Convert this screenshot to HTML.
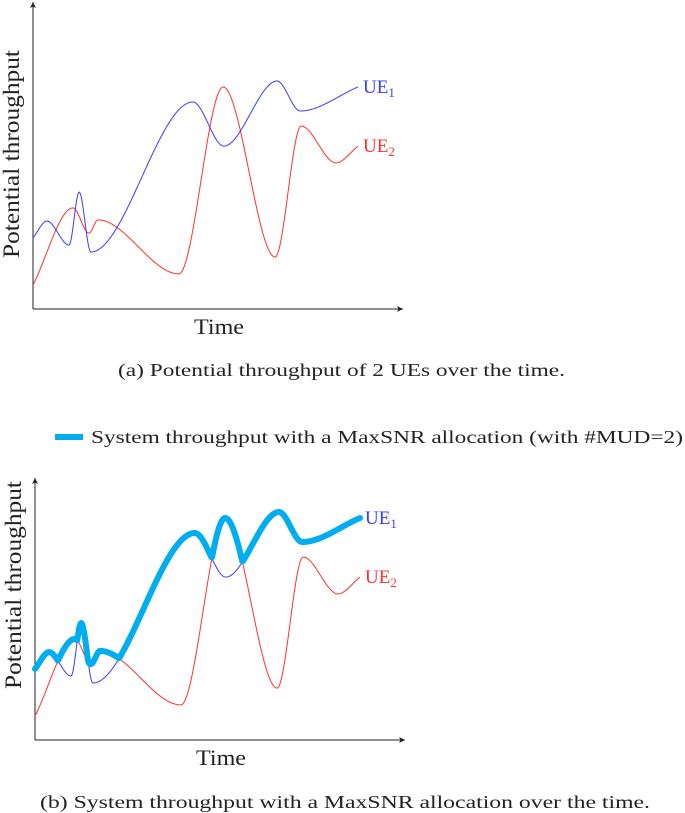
<!DOCTYPE html>
<html><head><meta charset="utf-8"><style>
body{margin:0;background:#fff;}
svg{display:block;font-family:"Liberation Serif",serif;}
</style></head><body>
<svg id="s" width="685" height="813" viewBox="0 0 685 813">
<defs><marker id="ar" markerWidth="8" markerHeight="8" refX="6" refY="3" orient="auto"><path d="M0,0 L6,3 L0,6 L1.5,3 Z" fill="#222"/></marker></defs>
</svg>
<script>
const tUE1=[0,4.3,11.1,14.2,17.8,49.2,58.7,75.1,82.2,100];
const vUE1=[23.7,29.3,21.3,39,19,69,54.3,76,66,74];
const tUE2=[0,12.3,17.2,20,44.9,58.5,74.5,82.5,93.2,100];
const vUE2=[8,33.7,25.3,29.7,11.7,74,17.3,61,48.7,54.3];
const ns='http://www.w3.org/2000/svg';
const svg=document.getElementById('s');
function el(tag,attrs,parent){const e=document.createElementNS(ns,tag);for(const k in attrs)e.setAttribute(k,attrs[k]);(parent||svg).appendChild(e);return e;}
function evalCurve(ts,vs,t){
  const n=ts.length;
  const m=[];
  for(let i=0;i<n;i++){
    if(i===0)m.push((vs[1]-vs[0])/(ts[1]-ts[0]));
    else if(i===n-1)m.push((vs[n-1]-vs[n-2])/(ts[n-1]-ts[n-2]));
    else{const a=(vs[i]-vs[i-1])/(ts[i]-ts[i-1]),b=(vs[i+1]-vs[i])/(ts[i+1]-ts[i]);m.push(a*b<=0?0:(a+b)/2);}
  }
  let i=0;while(i<n-2&&t>ts[i+1])i++;
  const h=ts[i+1]-ts[i],s=(t-ts[i])/h;
  const h00=2*s*s*s-3*s*s+1,h10=s*s*s-2*s*s+s,h01=-2*s*s*s+3*s*s,h11=s*s*s-s*s;
  return h00*vs[i]+h10*h*m[i]+h01*vs[i+1]+h11*h*m[i+1];
}
function chart(ox,oy,withSys,labelPrefix){
  const g=el('g',{});
  
  
  const X=t=>ox+t*3.25, Y=v=>oy-v*3;
  const top=withSys?oy-262:oy-307;
  const ya=el('line',{x1:ox,y1:oy,x2:ox,y2:top,stroke:'#222','stroke-width':1,'marker-end':'url(#ar)'},g);
  
  
  const xa=el('line',{x1:ox,y1:oy,x2:ox+370,y2:oy,stroke:'#222','stroke-width':1,'marker-end':'url(#ar)'},g);
  
  
  const N=400;
  function path(fn){let d='';for(let k=0;k<=N;k++){const t=k*100/N;d+=(k?'L':'M')+X(t).toFixed(2)+','+Y(fn(t)).toFixed(2);}return d;}
  const f1=t=>evalCurve(tUE1,vUE1,t), f2=t=>evalCurve(tUE2,vUE2,t);
  const p2=el('path',{d:path(f2),fill:'none',stroke:'#ff3030','stroke-width':1},g);
  
  
  const p1=el('path',{d:path(f1),fill:'none',stroke:'#3a3aff','stroke-width':1},g);
  
  
  if(withSys){
    const ps=el('path',{d:path(t=>Math.max(f1(t),f2(t))),fill:'none',stroke:'#00aeef','stroke-width':6,'stroke-linejoin':'round','stroke-linecap':'round'},g);
    
    
  }
  const l1=el('text',{x:X(100)+5,y:Y(vUE1[vUE1.length-1])+6,fill:'#3a3aff','font-size':19},g);
  l1.innerHTML='UE<tspan font-size="13" dy="4">1</tspan>';
  
  
  const l2=el('text',{x:X(100)+5,y:Y(vUE2[vUE2.length-1])+6,fill:'#ff3030','font-size':19},g);
  l2.innerHTML='UE<tspan font-size="13" dy="4">2</tspan>';
  
  
  const yt=el('text',{x:0,y:0,fill:'#222','font-size':23,'text-anchor':'middle',textLength:208,lengthAdjust:'spacingAndGlyphs',transform:`translate(${ox-14},${oy-155}) rotate(-90)`},g);
  yt.textContent='Potential throughput';
  
  
  const xt=el('text',{x:ox+186,y:oy+25,fill:'#222','font-size':22,'text-anchor':'middle',textLength:50,lengthAdjust:'spacingAndGlyphs'},g);
  xt.textContent='Time';
  
  
}
chart(33,309,false,'top');
chart(35,740,true,'bottom');
const c1=el('text',{x:118,y:376,fill:'#222','font-size':18,textLength:447,lengthAdjust:'spacingAndGlyphs'});
c1.textContent='(a)  Potential throughput of 2 UEs over the time.';


const c2=el('text',{x:40,y:808,fill:'#222','font-size':18,textLength:610,lengthAdjust:'spacingAndGlyphs'});
c2.textContent='(b)  System throughput with a MaxSNR allocation over the time.';


const lg=el('line',{x1:55,y1:437,x2:83,y2:437,stroke:'#00aeef','stroke-width':6});


const lt=el('text',{x:91,y:443,fill:'#222','font-size':18,textLength:592,lengthAdjust:'spacingAndGlyphs'});
lt.textContent='System throughput with a MaxSNR allocation (with #MUD=2)';


</script>
</body></html>
